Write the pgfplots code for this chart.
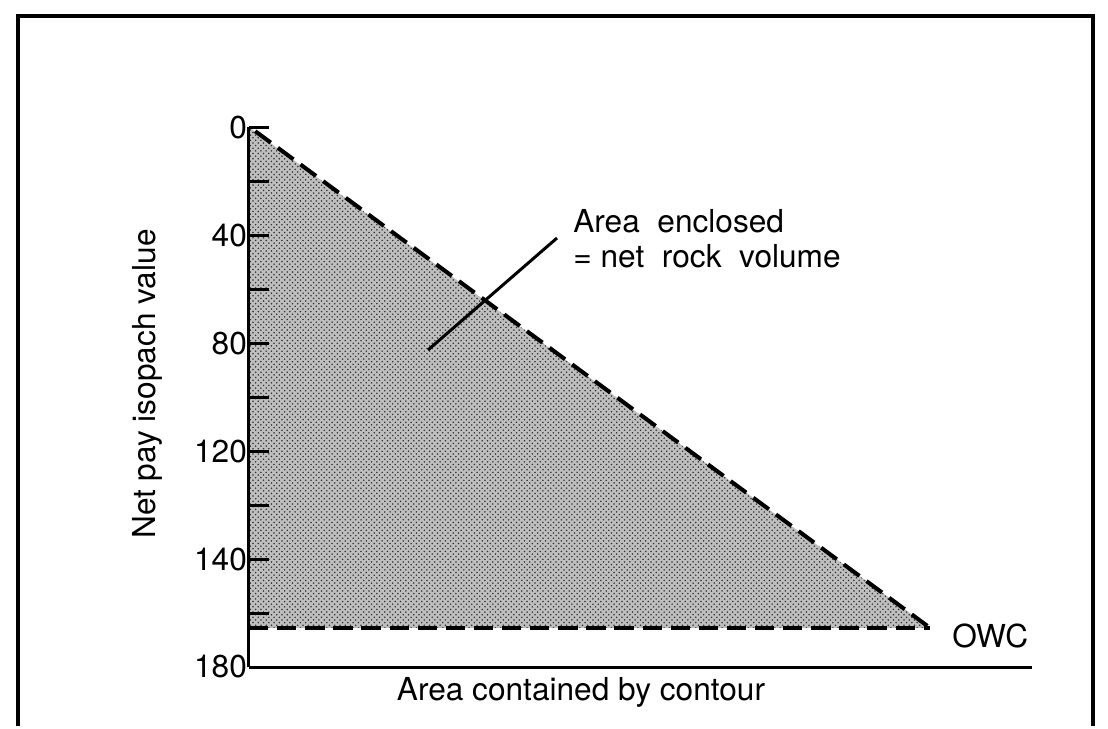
\documentclass[border=0pt]{standalone}
\usepackage{fontspec}
\setmainfont{TeX Gyre Heros}
\usepackage{pgfplots}
\pgfplotsset{compat=1.18}
\usetikzlibrary{patterns}
\begin{document}
\begin{tikzpicture}[x=0.02cm,y=0.02cm,font=\fontsize{18}{22}\selectfont]
\path (0,0) rectangle (1108,726);
\draw[line width=2.3pt] (18,0) -- (18,710) -- (1093,710) -- (1093,0);
\begin{axis}[
  at={(4.98cm,1.18cm)}, anchor=south west, scale only axis,
  width=15.66cm, height=10.8cm,
  xmin=0, xmax=100, ymin=-200, ymax=0,
  axis x line=bottom, axis y line=left,
  axis line style={-, line width=1.7pt},
  axis on top=true,
  xtick=\empty,
  ytick={-200,-180,-160,-140,-120,-100,-80,-60,-40,-20,0},
  yticklabels={180,,140,,120,,80,,40,,0},
  tick align=inside, ytick pos=left,
  major tick length=0.4cm,
  tick style={line width=1.7pt, black},
  yticklabel style={inner xsep=1pt, font=\fontsize{18}{22}\selectfont},
  /pgf/number format/assume math mode=true,
  clip=false,
]
\addplot[draw=none, fill=gray!50] coordinates {(0,0) (87,-185.5) (0,-185.5) (0,0)};
\addplot[draw=none, pattern=crosshatch dots, pattern color=black!80] coordinates {(0,0) (87,-185.5) (0,-185.5) (0,0)};
\addplot[line width=2.3pt, dash pattern=on 11pt off 5pt] coordinates {(0.8,-1.5) (87,-185.5)};
\addplot[line width=2.3pt, dash pattern=on 11pt off 5pt] coordinates {(0,-185.5) (87,-185.5)};
\end{axis}
\node[rotate=90] at (147,342) {Net pay isopach value};
\node[anchor=base] at (581,26) {Area contained by contour};
\node[anchor=base west, inner sep=0pt] at (573,493) {Area\ \ enclosed};
\node[anchor=base west, inner sep=0pt] at (573,458) {= net\ \ rock\ \ volume};
\node[anchor=base west, inner sep=0pt] at (952,79) {OWC};
\draw[line width=1.7pt] (428,376) -- (557,488);
\end{tikzpicture}
\end{document}
